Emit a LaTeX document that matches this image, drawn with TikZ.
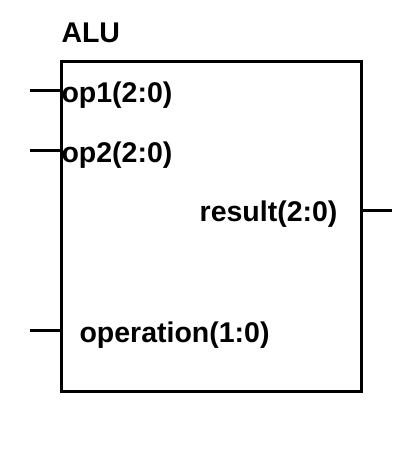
\documentclass[tikz,border=0pt]{standalone}
\usepackage{fontspec}
\setmainfont{Liberation Sans}
\usepackage{tikz}
\usetikzlibrary{positioning,calc}

\begin{document}
\begin{tikzpicture}[x=1pt, y=-1pt, line width=3pt,
  pinlabel/.style={font=\fontsize{28.5}{30}\selectfont\bfseries, inner sep=0pt}]
\useasboundingbox (0,0) rectangle (420,450);
\node[draw, minimum width=300pt, minimum height=330pt, anchor=north west, inner sep=0pt] (alu) at (60,60) {};
\node[pinlabel, anchor=base west] (name) at (60,42) {ALU};
\node[pinlabel, anchor=base west] (op1) at (60,102) {op1(2:0)};
\node[pinlabel, anchor=base west] (op2) at (60,162) {op2(2:0)};
\node[pinlabel, anchor=base west] (oper) at (78,342) {operation(1:0)};
\node[pinlabel, anchor=base east] (res) at (339,221) {result(2:0)};
% pins
\coordinate (in1) at (30,90);
\coordinate (in2) at (30,150);
\coordinate (in3) at (30,330);
\coordinate (out) at (392,210);
\draw (in1) -- (in1 -| alu.west);
\draw (in2) -- (in2 -| alu.west);
\draw (in3) -- (in3 -| alu.west);
\draw (out -| alu.east) -- (out);
\end{tikzpicture}
\end{document}
